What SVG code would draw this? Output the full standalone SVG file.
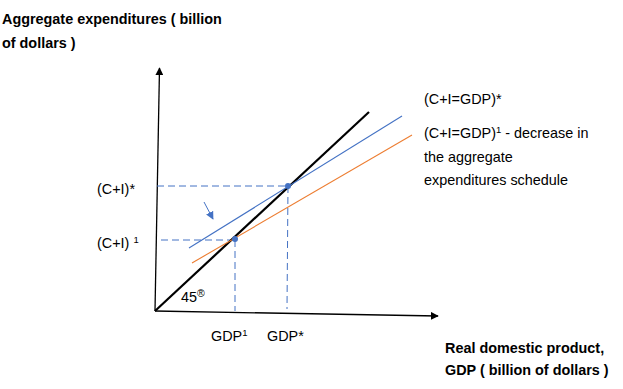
<svg xmlns="http://www.w3.org/2000/svg" width="623" height="389" viewBox="0 0 623 389">
<style>
.t{font-family:"Liberation Sans","Noto Sans",sans-serif;font-size:14.4px;fill:#000}
.b{font-weight:bold}
.ax{stroke:#000;stroke-width:1.3;fill:none}
.dash{stroke:#4472C4;stroke-width:1;stroke-dasharray:7,4;fill:none}
</style>
<defs>
<marker id="ah" viewBox="0 0 10 10" refX="9" refY="5" markerWidth="8" markerHeight="8" markerUnits="userSpaceOnUse" orient="auto"><path d="M0,0L10,5L0,10z" fill="#000"/></marker>
<marker id="bh" viewBox="0 0 10 10" refX="9" refY="5" markerWidth="8" markerHeight="8" markerUnits="userSpaceOnUse" orient="auto"><path d="M0,0L10,5L0,10z" fill="#4472C4"/></marker>
</defs>
<rect width="623" height="389" fill="#fff"/>
<g id="axes">
<line class="ax" x1="155" y1="311" x2="159.5" y2="68" marker-end="url(#ah)"/>
<line class="ax" x1="155" y1="311" x2="438" y2="316" marker-end="url(#ah)"/>
</g>
<g id="connectors">
<line class="dash" x1="157" y1="186" x2="288" y2="186"/>
<line class="dash" x1="161" y1="240" x2="235" y2="240"/>
<line class="dash" x1="235" y1="240" x2="235" y2="311"/>
<line class="dash" x1="288" y1="186" x2="287" y2="309"/>
<line x1="204" y1="202" x2="213" y2="219" stroke="#4472C4" stroke-width="1" marker-end="url(#bh)"/>
</g>
<g id="line45">
<line x1="155" y1="311" x2="369" y2="112" stroke="#000" stroke-width="2.2"/>
</g>
<g id="ae-star">
<line x1="189" y1="248" x2="402" y2="116" stroke="#4472C4" stroke-width="1.1"/>
</g>
<g id="ae-one">
<line x1="192" y1="263" x2="412" y2="135" stroke="#ED7D31" stroke-width="1.1"/>
</g>
<g id="points">
<circle cx="235" cy="239" r="3" fill="#4472C4"/>
<circle cx="288" cy="186" r="3" fill="#4472C4"/>
</g>
<g id="labels">
<text class="t b" x="2" y="24">Aggregate expenditures ( billion</text>
<text class="t b" x="2" y="48">of dollars )</text>
<text class="t" x="97" y="194">(C+I)*</text>
<text class="t" x="97" y="248">(C+I) <tspan font-size="9.5" dy="-5">1</tspan></text>
<text class="t" x="181" y="302">45<tspan font-size="10.5" dy="-5">®</tspan></text>
<text class="t" x="211" y="341">GDP<tspan font-size="9.5" dy="-5">1</tspan></text>
<text class="t" x="267" y="341">GDP*</text>
<text class="t" x="424" y="104">(C+I=GDP)*</text>
<text class="t" x="424" y="138">(C+I=GDP)<tspan font-size="9.5" dy="-5">1</tspan><tspan dy="5"> - decrease in</tspan></text>
<text class="t" x="424" y="162">the aggregate</text>
<text class="t" x="424" y="185">expenditures schedule</text>
<text class="t b" x="445" y="353">Real domestic product,</text>
<text class="t b" x="445" y="375">GDP ( billion of dollars )</text>
</g>
</svg>
